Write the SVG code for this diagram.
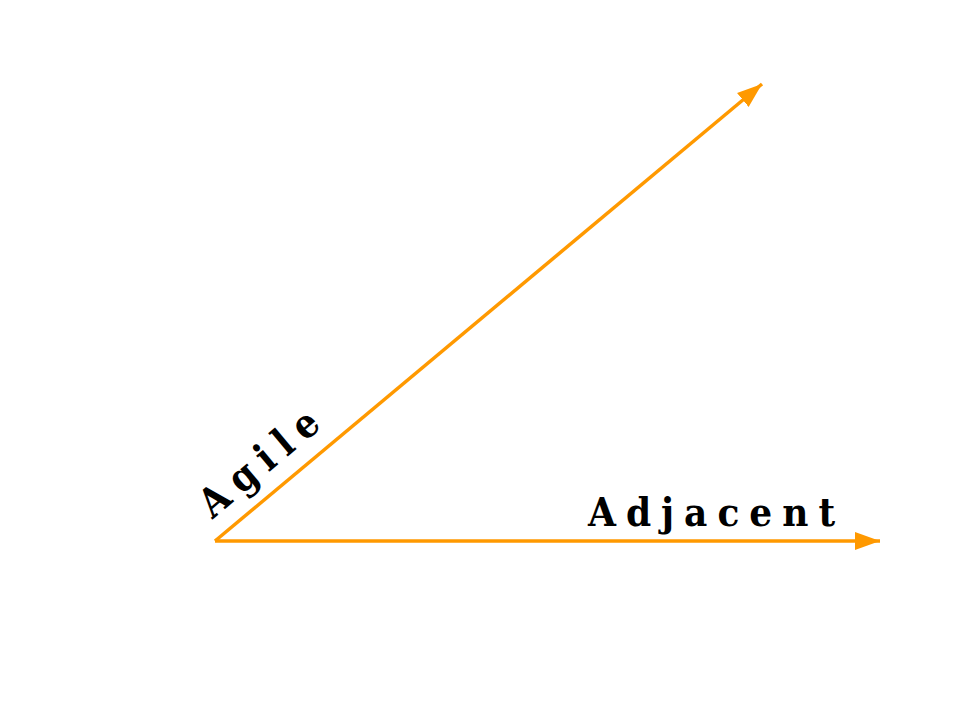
<svg xmlns="http://www.w3.org/2000/svg" width="960" height="720" viewBox="0 0 960 720">
<style>
.vec{stroke:#FF9900;stroke-width:3.5;fill:none}
.lbl{font-family:"DejaVu Serif Condensed","DejaVu Serif","Liberation Serif",serif;font-stretch:condensed;font-weight:bold;font-size:40px;letter-spacing:10px;fill:#000}
</style>
<defs>
<marker id="ah" markerUnits="userSpaceOnUse" markerWidth="26" markerHeight="20" refX="25" refY="10" orient="auto">
<path d="M0,1 L25,10 L0,19 Z" fill="#FF9900"/>
</marker>
</defs>
<rect width="960" height="720" fill="#fff"/>
<g id="connectors">
<line class="vec" x1="215" y1="541" x2="880" y2="541" marker-end="url(#ah)"/>
<line class="vec" x1="215" y1="541" x2="762" y2="84" marker-end="url(#ah)"/>
</g>
<g id="label-adjacent">
<text class="lbl" x="588" y="526">Adjacent</text>
</g>
<g id="label-agile" transform="translate(215,541) rotate(-40)">
<text class="lbl" x="12" y="-18">Agile</text>
</g>
</svg>
